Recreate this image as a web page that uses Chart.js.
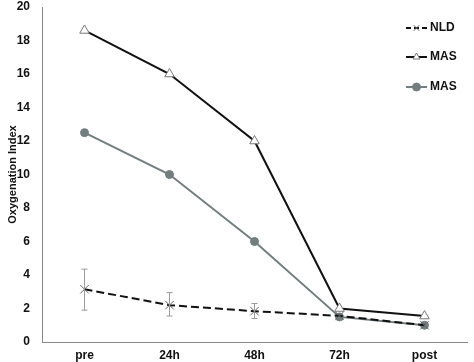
<!DOCTYPE html>
<html><head><meta charset="utf-8">
<script src="https://cdn.jsdelivr.net/npm/chart.js@4"></script>
<style>html,body{margin:0;padding:0;background:#fff}#wrap{width:474px;height:362px}</style>
</head><body><div id="wrap"><canvas id="c" width="474" height="362"></canvas></div>
<script>
const categories = ["pre", "24h", "48h", "72h", "post"];
const nldValues = [3.15, 2.2, 1.84, 1.56, 1.0];
const nldErrLow = [1.9, 1.55, 1.4, null, null];
const nldErrHigh = [4.35, 2.95, 2.3, null, null];
const masTriValues = [18.6, 16.0, 12.0, 2.0, 1.55];
const masCircValues = [12.5, 10.0, 6.0, 1.5, 1.0];
const yTicks = [0, 2, 4, 6, 8, 10, 12, 14, 16, 18, 20];

const FONT = "'Liberation Sans', Arial, sans-serif";
const GREY = '#727e7e';
const legendDashes = [[5, 3], [], []];

const errorBars = {
  id: 'errorBars',
  afterDatasetsDraw(chart) {
    const ctx = chart.ctx, x = chart.scales.x, y = chart.scales.y;
    ctx.save();
    ctx.strokeStyle = '#9a9a9a';
    ctx.lineWidth = 1;
    ctx.setLineDash([]);
    nldErrLow.forEach((lo, i) => {
      if (lo == null) return;
      const px = x.getPixelForValue(i);
      const y1 = y.getPixelForValue(lo), y2 = y.getPixelForValue(nldErrHigh[i]);
      ctx.beginPath();
      ctx.moveTo(px, y1); ctx.lineTo(px, y2);
      ctx.moveTo(px - 3, y1); ctx.lineTo(px + 3, y1);
      ctx.moveTo(px - 3, y2); ctx.lineTo(px + 3, y2);
      ctx.stroke();
    });
    ctx.restore();
  }
};

const customLegend = {
  id: 'customLegend',
  afterDraw(chart) {
    const ctx = chart.ctx;
    ctx.save();
    const ds = chart.data.datasets;
    const x0 = 406, x1 = 427, ys = [28, 57, 87];
    ds.forEach((d, i) => {
      const yy = ys[i];
      ctx.beginPath();
      ctx.setLineDash(legendDashes[i]);
      ctx.strokeStyle = d.borderColor;
      ctx.lineWidth = 2;
      ctx.moveTo(x0, yy); ctx.lineTo(x1, yy);
      ctx.stroke();
      ctx.setLineDash([]);
      ctx.strokeStyle = d.pointBorderColor;
      ctx.fillStyle = d.pointBackgroundColor;
      ctx.lineWidth = 1;
      Chart.helpers.drawPoint(ctx, {pointStyle: d.pointStyle, radius: 4, borderWidth: 1}, (x0 + x1) / 2, yy);
      ctx.fillStyle = '#111';
      ctx.font = 'bold 12px ' + FONT;
      ctx.textBaseline = 'middle';
      ctx.textAlign = 'left';
      ctx.fillText(d.label, 430, yy);
    });
    ctx.restore();
  }
};

new Chart(document.getElementById('c'), {
  type: 'line',
  data: {
    labels: categories,
    datasets: [
      { label: 'NLD', data: nldValues, borderColor: '#111', borderWidth: 2, borderDash: [8, 4],
        pointStyle: 'crossRot', pointRadius: 6, pointBorderColor: '#666', pointBackgroundColor: '#fff', pointBorderWidth: 1 },
      { label: 'MAS', data: masTriValues, borderColor: '#111', borderWidth: 2,
        pointStyle: 'triangle', pointRadius: 5.5, pointBorderColor: '#777', pointBackgroundColor: '#fff', pointBorderWidth: 1 },
      { label: 'MAS', data: masCircValues, borderColor: GREY, borderWidth: 2,
        pointStyle: 'circle', pointRadius: 4, pointBorderColor: GREY, pointBackgroundColor: GREY, pointBorderWidth: 1 }
    ]
  },
  options: {
    responsive: false,
    animation: false,
    layout: { padding: { top: 5, right: 0, left: 0, bottom: 0 } },
    plugins: { legend: { display: false }, tooltip: { enabled: false } },
    scales: {
      x: {
        offset: true,
        grid: { display: false, drawTicks: false },
        border: { color: '#888', width: 1 },
        ticks: { color: '#111', font: { family: FONT, size: 12, weight: 'bold' }, padding: 6 },
        afterFit(s) { s.height = 20; s.paddingLeft = 0; s.paddingRight = 0; }
      },
      y: {
        min: 0, max: 20,
        afterBuildTicks(s) { s.ticks = yTicks.map(v => ({ value: v })); },
        grid: { display: false, drawTicks: false },
        border: { color: '#888', width: 1 },
        ticks: { color: '#111', font: { family: FONT, size: 12, weight: 'bold' }, padding: 12 },
        title: { display: true, text: 'Oxygenation Index', color: '#111', font: { family: FONT, size: 11, weight: 'bold' }, padding: { top: 6, bottom: 0 } },
        afterFit(s) { s.width = 42; s.paddingTop = 0; s.paddingBottom = 0; }
      }
    }
  },
  plugins: [errorBars, customLegend]
});
</script></body></html>
